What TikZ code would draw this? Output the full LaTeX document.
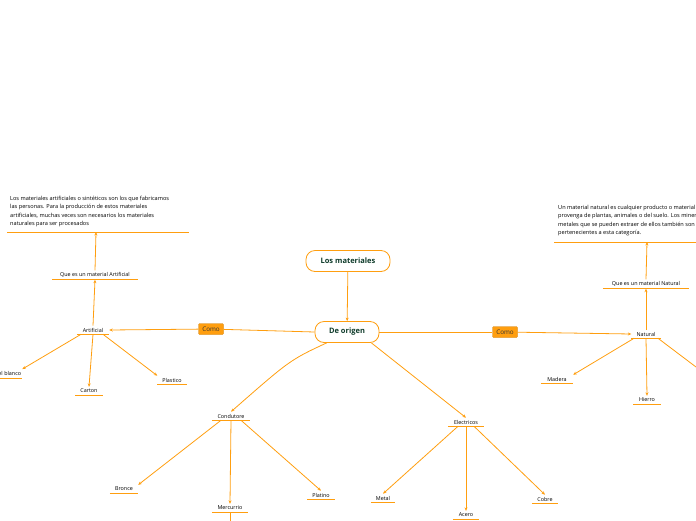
\documentclass[tikz,border=0pt]{standalone}
\usepackage{fontspec}
\setmainfont{Open Sans}
\usetikzlibrary{arrows.meta}
\definecolor{org}{HTML}{FF9E0F}
\definecolor{dgreen}{HTML}{0E3B2A}
\tikzset{
  ln/.style={draw=org, line width=0.8pt},
  ar/.style={ln, -{Stealth[length=3.5pt,width=3pt]}},
  topic/.style={font=\fontsize{5.4}{6}\selectfont, inner sep=1pt, inner ysep=2pt, minimum width=#1,
     append after command={(\tikzlastnode.south west) edge[ln, line width=1pt] (\tikzlastnode.south east)}},
  topic/.default=28pt,
  main/.style={draw=org, line width=0.8pt, rounded corners=9pt, font=\bfseries\fontsize{7.5}{8}\selectfont, text=dgreen, minimum height=21pt},
  como/.style={fill=org, draw=org!80!black, line width=0.3pt, rounded corners=1pt, font=\fontsize{6.3}{7}\selectfont, text=black!80, minimum width=25pt, minimum height=11pt, inner sep=1pt},
  para/.style={font=\fontsize{5.6}{8.3}\selectfont, align=left, anchor=north west, inner sep=0pt}
}
\begin{document}
\begin{tikzpicture}[x=1pt,y=-1pt]
\useasboundingbox (0,0) rectangle (696,520);
\clip (0,0) rectangle (696,520);
\node[main, minimum width=84pt] (lm) at (348,261) {Los materiales};
\node[main, minimum width=64pt] (do) at (347,332) {De origen};
\node[como] (c1) at (211,329) {Como};
\node[como] (c2) at (505,332) {Como};
\node[topic=32pt] (art) at (93,330) {Artificial};
\node[topic=85pt] (qa) at (95,275) {Que es un material Artificial};
\node[para] (pa) at (10,196) {Los materiales artificiales o sintéticos son los que fabricamos\\las personas. Para la producción de estos materiales\\artificiales, muchas veces son necesarios los materiales\\naturales para ser procesados};
\coordinate (pal) at (7,232); \coordinate (par) at (189,232);
\draw[ln,line width=1pt] (pal) -- (par);
\coordinate (pac) at (96,232);
\node[topic=30pt] (pb) at (5,374) {Papel blanco};
\node[topic=27pt] (ca) at (89,391) {Carton};
\node[topic=29pt] (pl) at (172,380) {Plastico};
\node[topic=38pt] (co) at (231,416) {Condutore};
\node[topic=28pt] (br) at (124,489) {Bronce};
\node[topic=36pt] (me) at (230,508) {Mercurrio};
\node[topic=27pt] (pt) at (321,495) {Platino};
\node[topic=36pt] (el) at (466,422) {Electricos};
\node[topic=24pt] (mt) at (383,498) {Metal};
\node[topic=26pt] (ac) at (466,515) {Acero};
\node[topic=26pt] (cb) at (545,499) {Cobre};
\node[topic=29pt] (na) at (646,334) {Natural};
\node[topic=86pt] (qn) at (646,284) {Que es un material Natural};
\node[para] (pn) at (558,205) {Un material natural es cualquier producto o material que\\provenga de plantas, animales o del suelo. Los minerales y\\metales que se pueden extraer de ellos también son\\pertenecientes a esta categoría.};
\coordinate (pnl) at (554,242); \coordinate (pnr) at (700,242);
\draw[ln,line width=1pt] (pnl) -- (pnr);
\coordinate (pnc) at (647,242);
\node[topic=32pt] (ma) at (557,379) {Madera};
\node[topic=27pt] (hi) at (647,400) {Hierro};
\coordinate (offr) at (700,370);
\coordinate (offm) at (230,525);
% edges
\draw[ar] (lm) -- (do);
\draw[ln] (do.west) -- (c1);
\draw[ar] (c1) -- (art.east);
\draw[ln] (do.east) -- (c2);
\draw[ar] (c2) -- (na.west);
\draw[ar] (art.north) -- (qa.south);
\draw[ar] (qa.north) -- (pac);
\draw[ar] (na.north) -- (qn.south);
\draw[ar] (qn.north) -- (pnc);
\draw[ar] (art.south) ++(-12,0) -- (pb.north east);
\draw[ar] (art.south) -- (ca.north);
\draw[ar] (art.south) ++(10,0) -- (pl.north west);
\draw[ar] (do.south west) ++(12,0) .. controls (290,360) .. (co.north);
\draw[ar] (do.south east) ++(-8,0) -- (el.north);
\draw[ar] (co.south) ++(-10,0) -- (br.north east);
\draw[ar] (co.south) -- (me.north);
\draw[ar] (co.south) ++(10,0) -- (pt.north);
\draw[ln] (me.south) -- (offm);
\draw[ar] (el.south) ++(-8,0) -- (mt.north);
\draw[ar] (el.south) -- (ac.north);
\draw[ar] (el.south) ++(8,0) -- (cb.north);
\draw[ar] (na.south) ++(-12,0) -- (ma.north east);
\draw[ar] (na.south) -- (hi.north);
\draw[ln] (na.south) ++(12,0) -- (offr);
\end{tikzpicture}
\end{document}
